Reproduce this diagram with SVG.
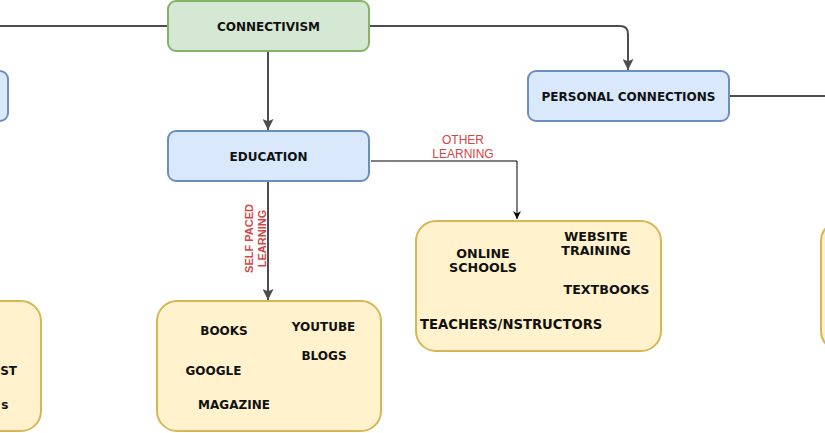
<svg xmlns="http://www.w3.org/2000/svg" width="825" height="433" viewBox="0 0 825 433">
<defs>
<marker id="arrDark" viewBox="0 0 10 10" refX="10" refY="5" markerWidth="5.5" markerHeight="5.5" markerUnits="strokeWidth" orient="auto">
<path d="M0,0 L10,5 L0,10 L2,5 z" fill="#4d4d4d"/>
</marker>
<marker id="arrThin" viewBox="0 0 10 10" refX="10" refY="5" markerWidth="8" markerHeight="8" markerUnits="strokeWidth" orient="auto">
<path d="M0,0 L10,5 L0,10 L3,5 z" fill="#000"/>
</marker>
<style>
.green{fill:#d5e8d4;stroke:#82b366;stroke-width:2}
.blue{fill:#dae8fc;stroke:#6c8ebf;stroke-width:2}
.yellow{fill:#fff2cc;stroke:#d6b656;stroke-width:2}
.t{font-family:"DejaVu Sans",Verdana,sans-serif;font-weight:bold;font-size:12px;fill:#111;text-anchor:middle}
.t2{font-family:"DejaVu Sans",Verdana,sans-serif;font-weight:bold;font-size:12.7px;fill:#111;text-anchor:middle}
.dark{fill:none;stroke:#4d4d4d;stroke-width:2}
.thin{fill:none;stroke:#000;stroke-width:1}
.lbl{font-family:"Liberation Sans",Arial,sans-serif;font-size:12px;fill:#d64545;text-anchor:middle}
.lblb{font-family:"Liberation Sans",Arial,sans-serif;font-size:11px;font-weight:bold;fill:#d64545;text-anchor:middle}
</style>
</defs>
<rect width="825" height="433" fill="#fff"/>
<g id="connectors">
<path class="dark" d="M0,26 H168"/>
<path class="dark" d="M369,26 H620 Q628,26 628,34 V70" marker-end="url(#arrDark)"/>
<path class="dark" d="M268,51 V130" marker-end="url(#arrDark)"/>
<path class="dark" d="M268,181 V300" marker-end="url(#arrDark)"/>
<path class="dark" d="M729,96 H825"/>
<path class="thin" d="M371,161 H517 V219" marker-end="url(#arrThin)"/>
<text class="lbl" x="463" y="144">OTHER</text>
<text class="lbl" x="463" y="157.5">LEARNING</text>
<text class="lblb" transform="rotate(-90 252.5 238.5)" x="252.5" y="238.5">SELF PACED</text>
<text class="lblb" transform="rotate(-90 266 238.5)" x="266" y="238.5">LEARNING</text>
</g>
<g id="left-blue">
<rect class="blue" x="-193" y="71" width="201" height="50" rx="8"/>
</g>
<g id="connectivism">
<rect class="green" x="168" y="1" width="201" height="50" rx="8"/>
<text class="t" x="268.5" y="30.5">CONNECTIVISM</text>
</g>
<g id="personal-connections">
<rect class="blue" x="528" y="71" width="201" height="50" rx="8"/>
<text class="t" x="628.5" y="100.5">PERSONAL CONNECTIONS</text>
</g>
<g id="education">
<rect class="blue" x="168" y="131" width="201" height="50" rx="8"/>
<text class="t" x="268.5" y="160.5">EDUCATION</text>
</g>
<g id="left-yellow">
<rect class="yellow" x="-183" y="301" width="224" height="130" rx="20"/>
<text class="t" x="17" y="375" style="text-anchor:end">ST</text>
<text class="t" x="8.5" y="409" style="text-anchor:end">s</text>
</g>
<g id="self-paced-box">
<rect class="yellow" x="157" y="301" width="224" height="130" rx="20"/>
<text class="t" x="224" y="334.5">BOOKS</text>
<text class="t" x="323.5" y="330.5">YOUTUBE</text>
<text class="t" x="324" y="359.5">BLOGS</text>
<text class="t" x="213.5" y="374.5">GOOGLE</text>
<text class="t" x="234" y="408.5">MAGAZINE</text>
</g>
<g id="other-learning-box">
<rect class="yellow" x="416" y="221" width="245" height="130" rx="20"/>
<text class="t2" x="483" y="258">ONLINE</text>
<text class="t2" x="483" y="272">SCHOOLS</text>
<text class="t2" x="596" y="241">WEBSITE</text>
<text class="t2" x="596" y="255">TRAINING</text>
<text class="t2" x="606.5" y="294">TEXTBOOKS</text>
<text class="t2" x="420" y="329" style="text-anchor:start;font-size:13.2px">TEACHERS/NSTRUCTORS</text>
</g>
<g id="right-yellow">
<rect class="yellow" x="821" y="221" width="245" height="130" rx="20"/>
</g>
</svg>
